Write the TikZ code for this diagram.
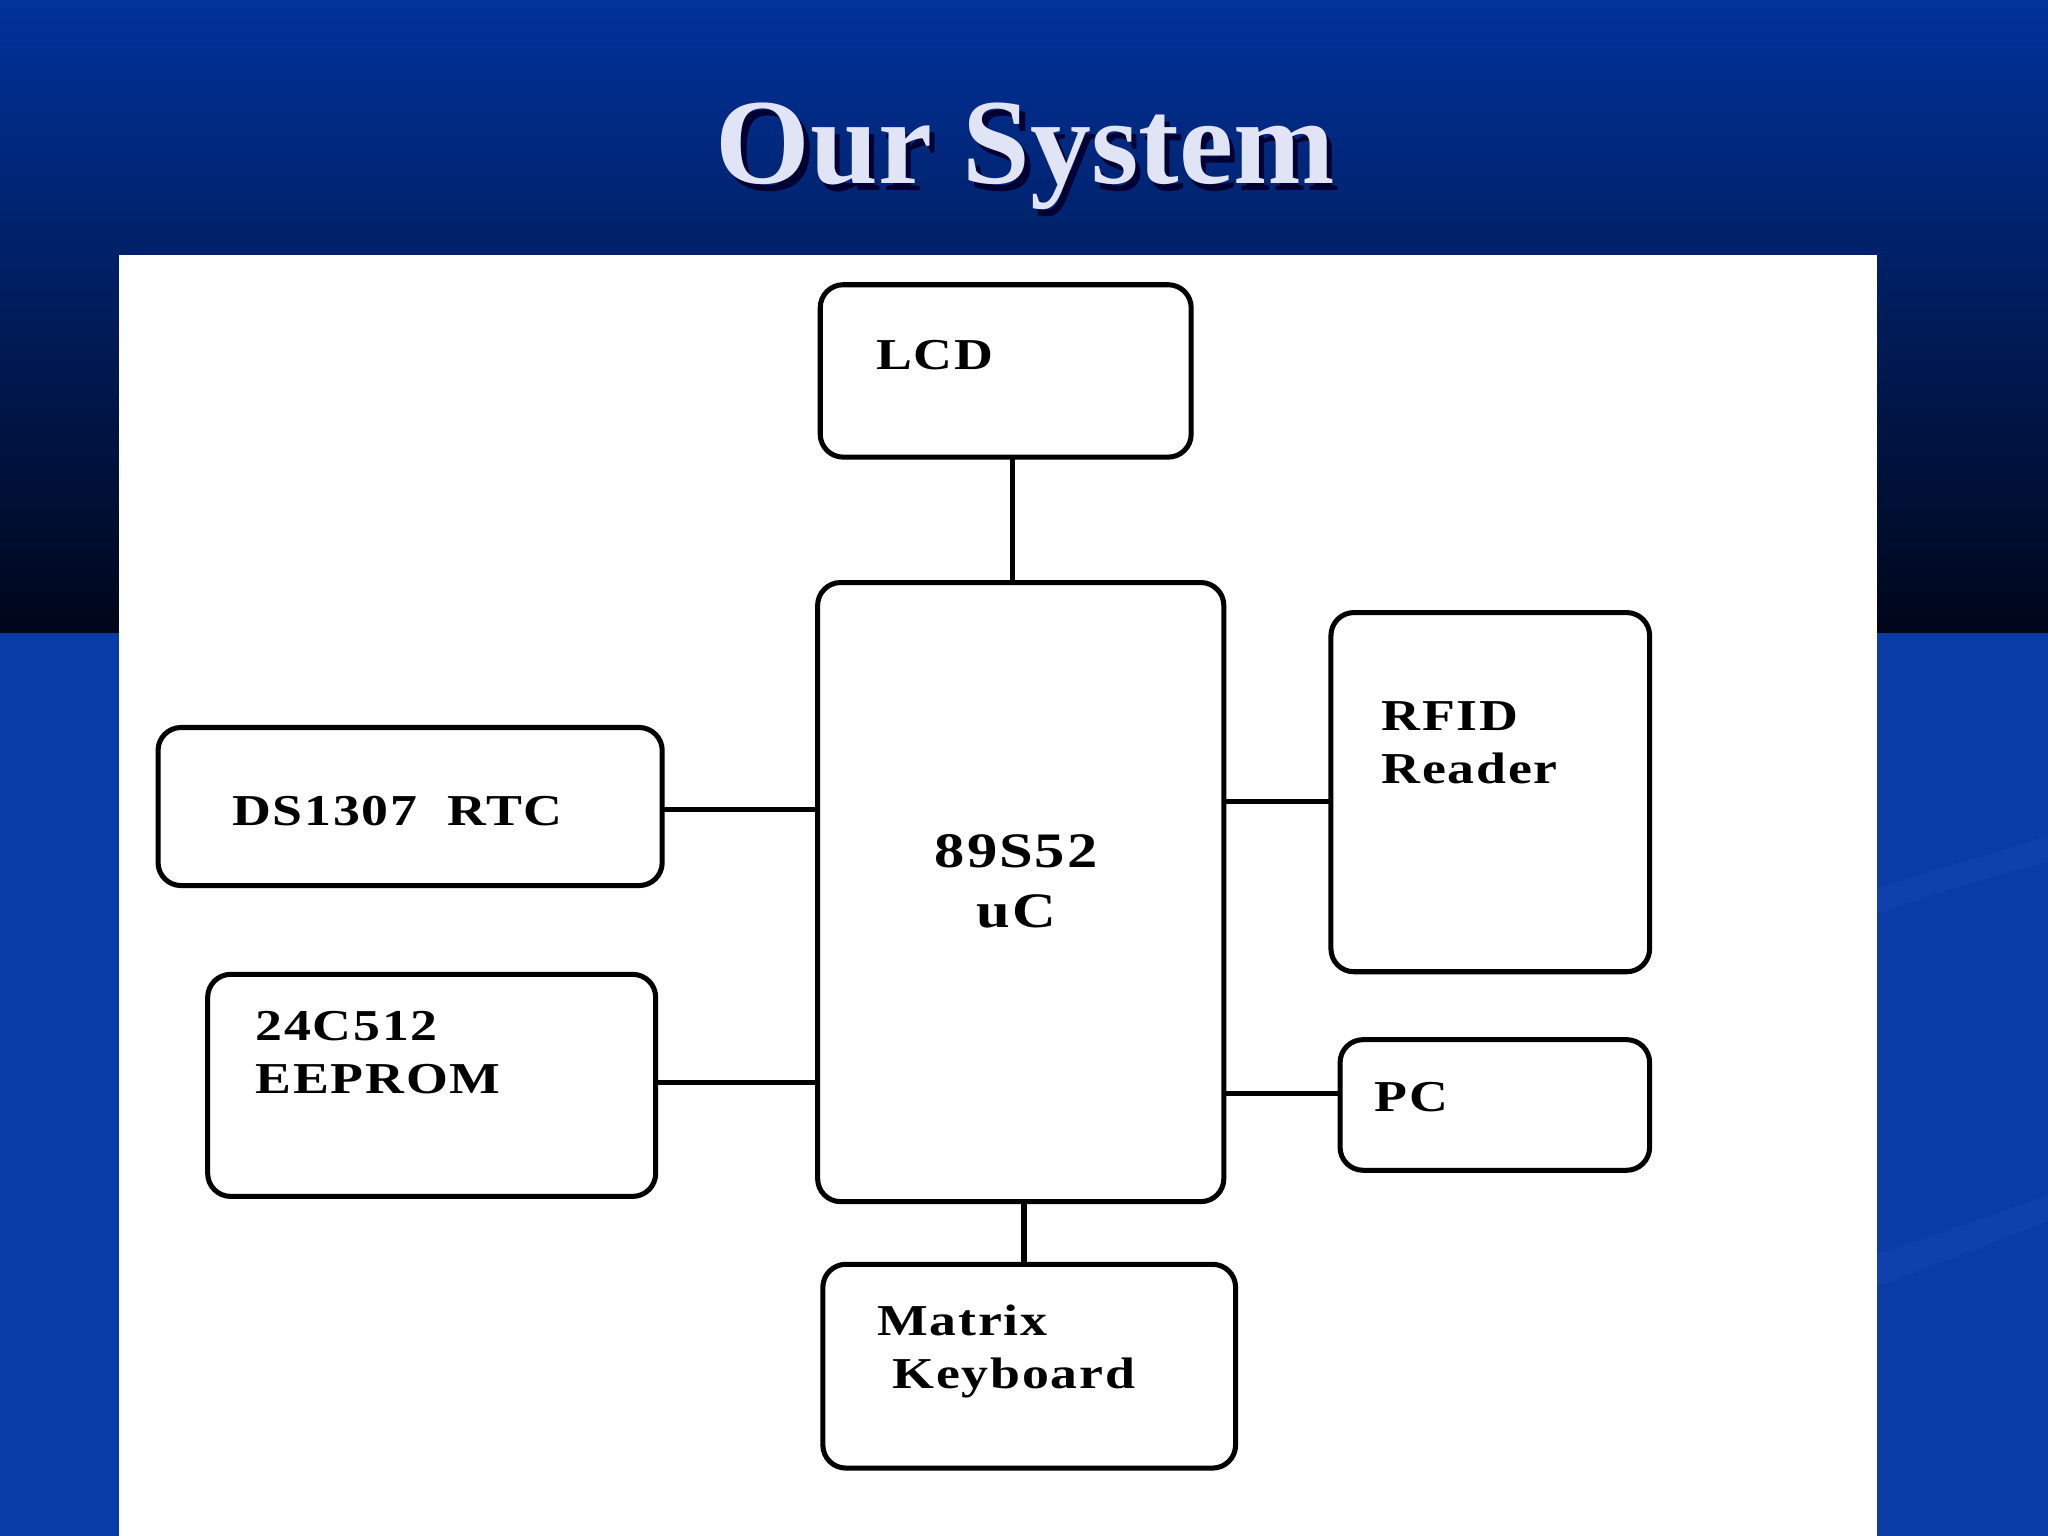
\documentclass[tikz,border=0pt]{standalone}
\usepackage{fontspec}
\setmainfont{Liberation Serif}
\newfontfamily\wideserif[FakeStretch=1.22,LetterSpace=4]{Liberation Serif}
\begin{document}
\begin{tikzpicture}[x=0.01cm,y=-0.01cm,
  blk/.style={draw=black,line width=1.1pt,rounded corners=5pt},
  lbl/.style={font=\wideserif\fontsize{9.6pt}{11.5pt}\selectfont\bfseries,anchor=west,align=left,inner sep=0},
  wire/.style={draw=black,line width=1.1pt}]
\useasboundingbox (0,0) rectangle (1568,1176);
\fill[color={rgb,255:red,10;green,60;blue,165}] (0,0) rectangle (1568,1176);
\shade[top color={rgb,255:red,0;green,50;blue,155},bottom color={rgb,255:red,0;green,6;blue,25}] (0,0) rectangle (1568,484);
\fill[color={rgb,255:red,20;green,70;blue,175},opacity=0.5] (1437,680) .. controls (1500,660) and (1540,650) .. (1568,640) -- (1568,660) .. controls (1530,670) and (1490,680) .. (1437,700) -- cycle;
\fill[color={rgb,255:red,20;green,70;blue,175},opacity=0.5] (1437,960) .. controls (1500,940) and (1540,925) .. (1568,915) -- (1568,935) .. controls (1530,950) and (1490,965) .. (1437,985) -- cycle;
\fill[white] (91,195) rectangle (1437,1176);
\node[font=\fontsize{26.5pt}{30pt}\selectfont\bfseries,text=black!80!blue] at (789,125) {Our System};
\node[font=\fontsize{26.5pt}{30pt}\selectfont\bfseries,text={rgb,255:red,225;green,228;blue,245}] (title) at (785,120) {Our System};
\draw[blk] (628,218) rectangle (912,350);
\node[lbl] (lcd) at (670,272) {LCD};
\draw[blk] (626,446) rectangle (937,920);
\node[font=\wideserif\fontsize{10.8pt}{13pt}\selectfont\bfseries,align=center] (uc) at (778,675) {89S52\\uC};
\draw[blk] (121,557) rectangle (507,678);
\node[lbl] (rtc) at (177,621) {DS1307\ \ RTC};
\draw[blk] (159,746) rectangle (502,916);
\node[lbl] (eep) at (195,806) {24C512\\EEPROM};
\draw[blk] (1019,469) rectangle (1263,744);
\node[lbl] (rfid) at (1057,569) {RFID\\Reader};
\draw[blk] (1026,796) rectangle (1263,896);
\node[lbl] (pc) at (1052,840) {PC};
\draw[blk] (630,968) rectangle (946,1124);
\node[lbl] (kb) at (671,1035) {Matrix\\\ Keyboard};
\coordinate (a1) at (775,350); \coordinate (a2) at (775,446);
\coordinate (b1) at (507,620); \coordinate (b2) at (626,620);
\coordinate (c1) at (502,829); \coordinate (c2) at (626,829);
\coordinate (d1) at (937,614); \coordinate (d2) at (1019,614);
\coordinate (e1) at (937,837); \coordinate (e2) at (1026,837);
\coordinate (f1) at (784,920); \coordinate (f2) at (784,968);
\draw[wire] (a1)--(a2); \draw[wire] (b1)--(b2); \draw[wire] (c1)--(c2);
\draw[wire] (d1)--(d2); \draw[wire] (e1)--(e2); \draw[wire] (f1)--(f2);
\end{tikzpicture}
\end{document}
